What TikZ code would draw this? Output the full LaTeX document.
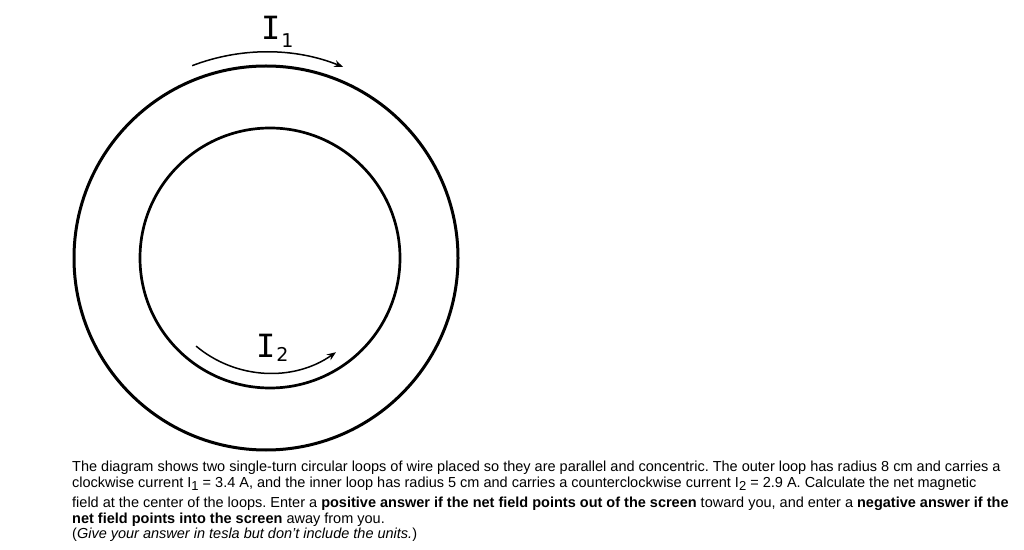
\documentclass[tikz,border=0pt]{standalone}
\usepackage{fontspec}
\setmainfont{Liberation Sans}
\newfontfamily\curfont{DejaVu Sans Mono}
\newfontfamily\subfont{DejaVu Sans}
\usetikzlibrary{arrows.meta}
\frenchspacing
\newcommand{\curlab}[2]{{\fontsize{32}{32}\selectfont\curfont I}\kern1pt\raisebox{#2}{\fontsize{19}{19}\selectfont\subfont #1}}
\newcommand{\sI}[1]{I\raisebox{-3pt}{\fontsize{13}{13}\selectfont #1}}

\begin{document}
\begin{tikzpicture}[x=1pt,y=1pt,font=\fontsize{14.5}{17}\selectfont,
  loop/.style={line width=3pt},
  cur/.style={line width=1.5pt,-{Stealth[length=9pt,width=7pt]}},
  txt/.style={anchor=base west,inner sep=0pt}]
  \useasboundingbox (0,0) rectangle (1024,549);
  \coordinate (O1) at (266,291);
  \coordinate (O2) at (270,291);
  \draw[loop] (O1) circle (192pt);
  \draw[loop,line width=2.7pt] (O2) circle (130pt);
  \draw[cur] ([shift={(111:206pt)}]O1) arc (111:68:206pt);
  \draw[cur] ([shift={(230:115pt)}]O2) arc (230:305:115pt);
  \node[txt] (Ione) at (261,509) {\curlab{1}{-7.7pt}};
  \node[txt] (Itwo) at (256,192) {\curlab{2}{-5pt}};
  \node[txt] (line1) at (72,77.3) {The diagram shows two single-turn circular loops of wire placed so they are parallel and concentric. The outer loop has radius 8 cm and carries a};
  \node[txt] (line2) at (72,61.3) {clockwise current \sI{1} = 3.4 A, and the inner loop has radius 5 cm and carries a counterclockwise current \sI{2} = 2.9 A. Calculate the net magnetic};
  \node[txt] (line3) at (72,41.7) {field at the center of the loops. Enter a \textbf{positive answer if the net field points out of the screen} toward you, and enter a \textbf{negative answer if the}};
  \node[txt] (line4) at (72,25.7) {\textbf{net field points into the screen} away from you.};
  \node[txt] (line5) at (72,10.7) {(\textit{Give your answer in tesla but don't include the units.})};
\end{tikzpicture}
\end{document}
